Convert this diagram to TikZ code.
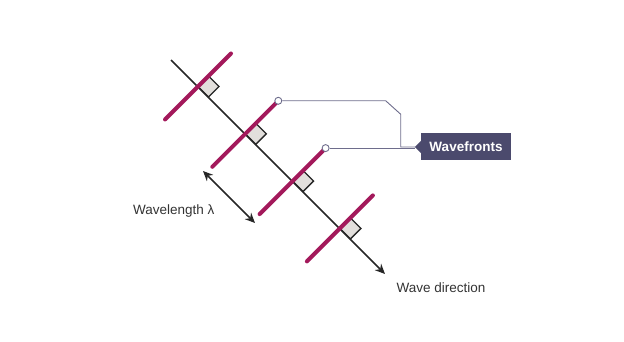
\documentclass[tikz,border=0pt]{standalone}
\usepackage{fontspec}
\setmainfont{Liberation Sans}
\usepackage{tikz}
\usetikzlibrary{arrows.meta,positioning,calc}

\definecolor{wfmag}{HTML}{A3195B}
\definecolor{sqgray}{HTML}{E2DFDC}
\definecolor{leadgray}{HTML}{6E6D8C}
\definecolor{boxpurple}{HTML}{4B4A6D}

\begin{document}
\begin{tikzpicture}[x=1pt, y=-1pt,
  front/.style={draw=wfmag, line width=4pt, line cap=round},
  ray/.style={draw=black!85, line width=1.6pt},
  tip/.style={-{Stealth[length=10pt, width=9pt]}},
  tick/.style={draw=black!85, fill=sqgray, line width=1.4pt},
  lead/.style={draw=leadgray, line width=0.9pt},
  dot/.style={circle, draw=leadgray, fill=white, line width=0.9pt,
              inner sep=0pt, minimum size=7pt},
  lbl/.style={font=\fontsize{13.5}{16}\selectfont, text=black!80},
  tag/.style={fill=boxpurple, text=white, inner sep=0pt,
              minimum width=90pt, minimum height=27pt,
              font=\fontsize{13.5}{16}\selectfont\bfseries}
]
  \useasboundingbox (0,0) rectangle (624,342);

  % centres of the wavefronts on the ray
  \foreach \i in {0,...,3}
    \coordinate (c\i) at ({198+47.3*\i},{86.5+47.3*\i});

  % right-angle marks
  \foreach \i in {0,...,3}
    \draw[tick] (c\i) -- ++(10.5,-10.5) -- ++(10.5,10.5) -- ++(-10.5,10.5) -- cycle;

  % wave direction ray
  \coordinate (start) at (171,60);
  \coordinate (end)   at (385,274);
  \draw[ray, tip] (start) -- (end);

  % wavefronts
  \foreach \i in {0,...,3} {
    \coordinate (f\i) at ($(c\i)+(33,-33)$);
    \draw[front] ($(c\i)+(-33,33)$) -- (f\i);
  }

  % label box with pointer
  \node[tag] (wf) at (466,147) {Wavefronts};
  \fill[boxpurple] ($(wf.west)+(0,-6)$) -- ++(-6,6) coordinate (ptr) -- ++(6,6) -- cycle;

  \node[dot] (d1) at (f1) {};
  \node[dot] (d2) at (f2) {};
  \draw[lead] (d1.east) -- ++(103.5,0) -- ++(15,13.5) |- (ptr);
  \draw[lead] (d2.east) -- (d2.east -| ptr);

  % wavelength
  \coordinate (wa) at (203,171);
  \coordinate (wb) at (255,223);
  \draw[ray, {Stealth[length=10pt, width=9pt]}-{Stealth[length=10pt, width=9pt]}] (wa) -- (wb);
  \node[lbl, anchor=east] (wl) at (218,211) {Wavelength λ};

  \node[lbl] (wd) at (441,288) {Wave direction};
\end{tikzpicture}
\end{document}
